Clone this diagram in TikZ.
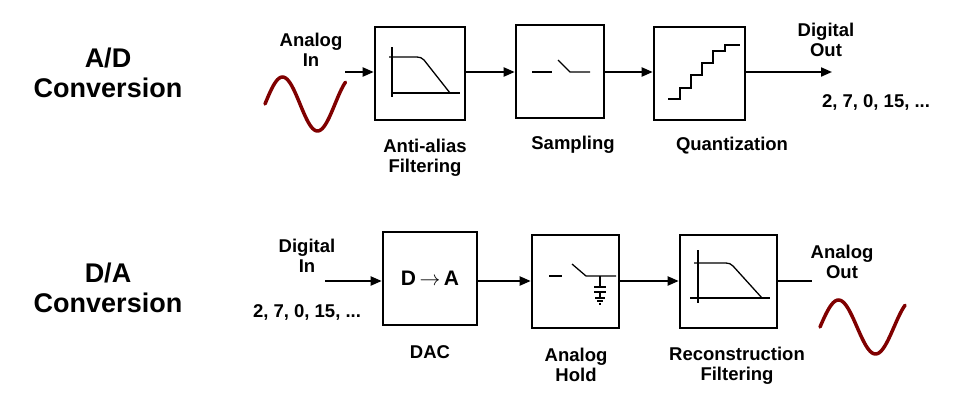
\documentclass[tikz,border=0pt]{standalone}
\usepackage{fontspec}
\setmainfont{Liberation Sans}
\usetikzlibrary{arrows.meta}
\begin{document}
\begin{tikzpicture}[x=1pt,y=-1pt,
  lbl/.style={font=\bfseries\fontsize{18.5}{20}\selectfont,align=center,inner sep=0pt},
  big/.style={font=\bfseries\fontsize{27}{30}\selectfont,align=center},
  arr/.style={line width=2pt,-{Triangle[length=11pt,width=9pt]}},
  ic/.style={line width=1.3pt},
  wave/.style={line width=3.5pt,color=red!50!black,line cap=round}]
\useasboundingbox (0,0) rectangle (960,405);
% A/D
\node[big] (ad) at (108,73) {A/D\\Conversion};
\node[big] (da) at (108,288) {D/A\\Conversion};
\node[draw,line width=2.6pt,minimum width=90pt,minimum height=93pt] (b1) at (420,73.5) {};
\node[draw,line width=2.6pt,minimum width=88pt,minimum height=93pt] (b2) at (560,71.5) {};
\node[draw,line width=2.6pt,minimum width=91pt,minimum height=93pt] (b3) at (699.5,73.5) {};
\coordinate (in1) at (345,72);
\coordinate (out1) at (832,72);
\draw[arr] (in1) -- (b1.west|-in1);
\draw[arr] (b1.east|-in1) -- (b2.west|-in1);
\draw[arr] (b2.east|-in1) -- (b3.west|-in1);
\draw[arr] (b3.east|-in1) -- (out1);
\node[lbl] (ain) at (311,50) {Analog\\In};
\node[lbl] (dout) at (826,40) {Digital\\Out};
\node[lbl] (seq1) at (876,102) {2, 7, 0, 15, ...};
\node[lbl] (l1) at (425,158) {Anti-alias\\Filtering};
\node[lbl] (l2) at (573,145) {Sampling};
\node[lbl] (l3) at (732,146) {Quantization};
\draw[wave] plot[domain=0:1.15,samples=60,smooth,variable=\t] ({265+\t*70},{104-27*sin(360*\t)});
% filter icon
\draw[ic] (392,93) -- (460,93);
\draw[ic] (392,47) -- (392,97) ;
\draw[ic] (389,57) -- (417,57) to[out=0,in=135] (424,60) -- (450,93);
% switch
\draw[ic] (532,72) -- (552,72);
\draw[ic] (558,60) -- (570,72) -- (590,72);
% stairs
\draw[ic] (668,99) -- (680,99) -- (680,88) -- (691,88) -- (691,75) -- (702,75) -- (702,63) -- (713,63) -- (713,51) -- (725,51) -- (725,45) -- (740,45);
% D/A
\node[draw,line width=2.6pt,minimum width=94pt,minimum height=93pt] (c1) at (430,278.5) {\fontsize{21}{24}\selectfont\bfseries D\,$\rightarrow$\,A};
\node[draw,line width=2.6pt,minimum width=87pt,minimum height=93pt] (c2) at (575.5,281.5) {};
\node[draw,line width=2.6pt,minimum width=97pt,minimum height=93pt] (c3) at (728.5,281.5) {};
\coordinate (in2) at (325,281);
\coordinate (out2) at (812,281);
\draw[arr] (in2) -- (c1.west|-in2);
\draw[arr] (c1.east|-in2) -- (c2.west|-in2);
\draw[arr] (c2.east|-in2) -- (c3.west|-in2);
\draw[line width=2pt] (c3.east|-in2) -- (out2);
\node[lbl] (din) at (307,256) {Digital\\In};
\node[lbl] (seq2) at (307,312) {2, 7, 0, 15, ...};
\node[lbl] (aout) at (842,262) {Analog\\Out};
\node[lbl] (m1) at (430,352) {DAC};
\node[lbl] (m2) at (576,365) {Analog\\Hold};
\node[lbl] (m3) at (737,366) {Reconstruction\\Filtering};
\draw[wave] plot[domain=0:1.15,samples=60,smooth,variable=\t] ({820+\t*74},{327-27*sin(360*\t)});
% hold icon
\draw[ic] (549,276) -- (562,276);
\draw[ic] (572,264) -- (586,276) -- (616,276);
\draw[ic] (600,276) -- (600,287);
\draw[ic] (594,287) -- (606,287);
\draw[ic] (594,292) -- (606,292);
\draw[ic] (600,292) -- (600,298);
\draw[ic] (595,298) -- (605,298);
\draw[ic] (597,301) -- (603,301);
\draw[ic] (599,304) -- (601,304);
% filter icon 2
\draw[ic] (690,298) -- (770,298);
\draw[ic] (698,250) -- (698,303);
\draw[ic] (694,263) -- (726,263) to[out=0,in=135] (733,266) -- (762,298);
\end{tikzpicture}
\end{document}
